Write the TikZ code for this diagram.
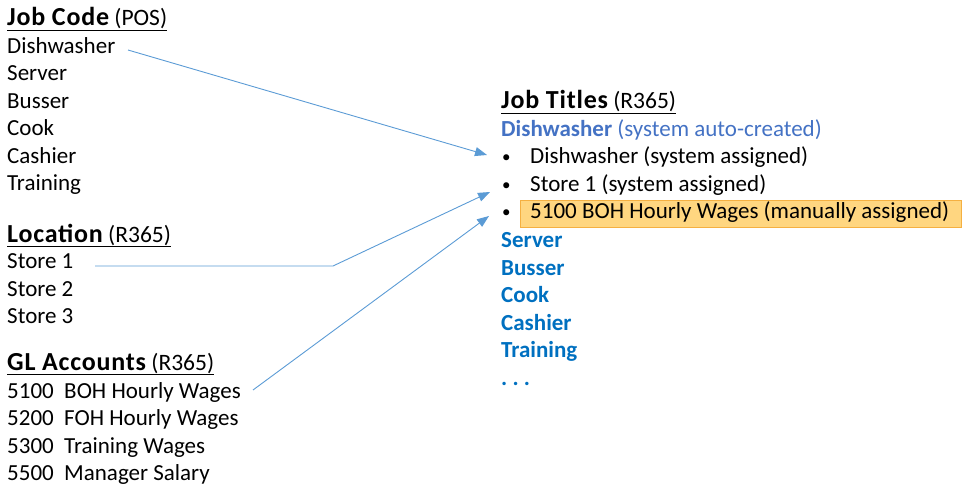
\documentclass[tikz,border=0pt]{standalone}
\usepackage{fontspec}
\setmainfont{Carlito}
\usetikzlibrary{arrows.meta}
\definecolor{arrowblue}{RGB}{91,155,213}
\definecolor{titleblue}{RGB}{0,112,192}
\definecolor{autoblue}{RGB}{68,114,196}
\definecolor{hlfill}{RGB}{255,214,128}
\definecolor{hldraw}{RGB}{245,176,65}
\newcommand{\hdbold}[1]{{\fontsize{26}{30}\selectfont\bfseries\addfontfeature{LetterSpace=3}#1}}
\newcommand{\hdline}[1]{\underline{#1}}
\tikzset{
  txt/.style={anchor=base west,inner sep=0pt,font=\fontsize{23}{27}\selectfont},
  hd/.style={anchor=base west,inner sep=0pt,font=\fontsize{23.5}{27}\selectfont},
  jt/.style={txt,text=titleblue,font=\fontsize{23}{27}\selectfont\bfseries},
  bul/.style={anchor=base west,inner sep=0pt,font=\fontsize{17}{20}\selectfont},
  link/.style={draw=arrowblue,line width=0.9pt,-{Triangle[length=12pt,width=9pt]}}
}
\begin{document}
\begin{tikzpicture}[x=1pt,y=-1pt]
\useasboundingbox (0,0) rectangle (973,494);
% left column
\node[hd] (jc) at (7,26) {\hdline{\hdbold{Job Code} (POS)}};
\node[txt] (dw) at (7,53.5) {Dishwasher};
\node[txt] (sv) at (7,81) {Server};
\node[txt] (bs) at (7,108.5) {Busser};
\node[txt] (ck) at (7,136) {Cook};
\node[txt] (cs) at (7,163.5) {Cashier};
\node[txt] (tr) at (7,191) {Training};
\node[hd] (loc) at (7,242) {\hdline{\hdbold{Location} (R365)}};
\node[txt] (s1) at (7,268.5) {Store 1};
\node[txt] (s2) at (7,296) {Store 2};
\node[txt] (s3) at (7,323.5) {Store 3};
\node[hd] (gl) at (7,370) {\hdline{\hdbold{GL Accounts} (R365)}};
\node[txt] (g1) at (7,398) {5100\ \ BOH Hourly Wages};
\node[txt] (g2) at (7,425.5) {5200\ \ FOH Hourly Wages};
\node[txt] (g3) at (7,453) {5300\ \ Training Wages};
\node[txt] (g4) at (7,480.5) {5500\ \ Manager Salary};
% right column
\fill[hlfill,draw=hldraw,line width=0.9pt] (520,200) rectangle (961,227);
\node[hd] (jtt) at (501,109) {\hdline{\hdbold{Job Titles} (R365)}};
\node[txt,text=autoblue] (jdw) at (501,137) {\textbf{Dishwasher} (system auto-created)};
\node[bul] (b1) at (502,163) {\textbullet};
\node[txt] (i1) at (530,164) {Dishwasher (system assigned)};
\node[bul] (b2) at (502,190.5) {\textbullet};
\node[txt] (i2) at (530,191.5) {Store 1 (system assigned)};
\node[bul] (b3) at (502,217.5) {\textbullet};
\node[txt] (i3) at (530,218.5) {5100 BOH Hourly Wages (manually assigned)};
\node[jt] (jsv) at (501,247.5) {Server};
\node[jt] (jbs) at (501,275) {Busser};
\node[jt] (jck) at (501,302.5) {Cook};
\node[jt] (jcs) at (501,330) {Cashier};
\node[jt] (jtr) at (501,357.5) {Training};
\node[jt] (jdots) at (501,385) {.\ .\ .};
% connector end points
\coordinate (dwS) at (128,50);
\coordinate (s1S) at (95,266);
\coordinate (s1K) at (333,266);
\coordinate (g1S) at (253,390);
\coordinate (e1) at (487,155);
\coordinate (e2) at (490,192);
\coordinate (e3) at (489,216);
\draw[link] (dwS) -- (e1);
\draw[link] (s1S) -- (s1K) -- (e2);
\draw[link] (g1S) -- (e3);
\end{tikzpicture}
\end{document}
